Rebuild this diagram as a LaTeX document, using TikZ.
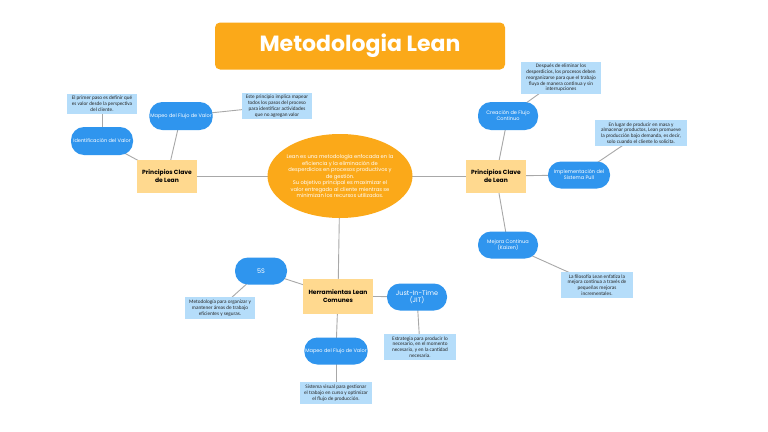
\documentclass[tikz,border=0pt]{standalone}
\usepackage{fontspec}
\setmainfont{Poppins}
\newfontfamily\notefont{Carlito}
\usetikzlibrary{shapes.geometric,backgrounds}
\definecolor{og}{HTML}{FBA919}
\definecolor{yl}{HTML}{FFD98F}
\definecolor{bl}{HTML}{2F95EE}
\definecolor{lb}{HTML}{B5DDFA}
\definecolor{ln}{HTML}{A8A8A8}
\tikzset{
 pill/.style={fill=bl,rounded corners=13pt,minimum width=#1,minimum height=28pt,text=white,align=center,font=\fontsize{5}{6}\selectfont,inner sep=1pt},
 note/.style={fill=lb,minimum width=#1,align=center,font=\notefont\fontsize{5.2}{5.8}\selectfont,inner sep=2.5pt,text=black!85},
 ybox/.style={fill=yl,minimum width=#1,minimum height=33pt,align=center,font=\bfseries\fontsize{6}{7.5}\selectfont},
 con/.style={draw=ln,line width=0.9pt}
}
\begin{document}
\begin{tikzpicture}[x=1pt,y=-1pt]
\useasboundingbox (0,0) rectangle (768,431);
\node[ybox=60] (L) at (167,176) {Principios Clave\\de Lean};
\node[ybox=60] (R) at (496,176) {Principios Clave\\de Lean};
\node[ybox=70,minimum height=35pt] (B) at (338,296) {Herramientas Lean\\Comunes};
\node[pill=62pt] (p1) at (102,141) {Identificación del Valor};
\node[pill=60pt] (p2) at (181,116) {Mapeo del Flujo de Valor};
\node[pill=60pt] (p3) at (508,116) {Creación de Flujo\\Continuo};
\node[pill=62pt,minimum height=27pt] (p4) at (579,175) {Implementación del\\Sistema Pull};
\node[pill=60pt,minimum height=27pt] (p5) at (508,245) {Mejora Continua\\(Kaizen)};
\node[pill=52pt,minimum height=27pt,font=\fontsize{6.5}{7.5}\selectfont] (p6) at (261,271) {5S};
\node[pill=60pt,minimum height=27pt,font=\fontsize{6.5}{7.5}\selectfont] (p7) at (417,297) {Just-In-Time\\(JIT)};
\node[pill=60pt,minimum height=27pt] (p8) at (336,351) {Mapeo del Flujo de Valor};
\node[note=70pt] (n1) at (102,104) {El primer paso es definir qué\\es valor desde la perspectiva\\del cliente.};
\node[note=70pt] (n2) at (277,106) {Este principio implica mapear\\todos los pasos del proceso\\para identificar actividades\\que no agregan valor};
\node[note=80pt] (n3) at (561,78) {Después de eliminar los\\desperdicios, los procesos deben\\reorganizarse para que el trabajo\\fluya de manera continua y sin\\interrupciones};
\node[note=92pt] (n4) at (641,133) {En lugar de producir en masa y\\almacenar productos, Lean promueve\\la producción bajo demanda, es decir,\\solo cuando el cliente lo solicita.};
\node[note=72pt] (n5) at (597,285) {La filosofía Lean enfatiza la\\mejora continua a través de\\pequeñas mejoras\\incrementales.};
\node[note=70pt] (n6) at (220,308) {Metodología para organizar y\\mantener áreas de trabajo\\eficientes y seguras.};
\node[note=72pt] (n7) at (420,347) {Estrategia para producir lo\\necesario, en el momento\\necesario, y en la cantidad\\necesaria.};
\node[note=72pt] (n8) at (336,393) {Sistema visual para gestionar\\el trabajo en curso y optimizar\\el flujo de producción.};
\node[ellipse,fill=og,minimum width=145pt,minimum height=84pt,inner sep=0pt] (E) at (340,176) {};
\node[text=white,align=center,font=\fontsize{5.2}{6.5}\selectfont] (Et) at (340,176) {Lean es una metodología enfocada en la\\eficiencia y la eliminación de\\desperdicios en procesos productivos y\\de gestión.\\Su objetivo principal es maximizar el\\valor entregado al cliente mientras se\\minimizan los recursos utilizados.};
\node[fill=og,rounded corners=5pt,minimum width=290pt,minimum height=47pt,text=white,font=\bfseries\fontsize{22}{26}\selectfont] (T) at (360,46) {Metodologia Lean};
\begin{scope}[on background layer]
\fill[white] (0,0) rectangle (768,431);
\draw[con] (E.center) -- (L.center);
\draw[con] (E.center) -- (R.center);
\draw[con] (E.center) -- (B.center);
\draw[con] (L.center) -- (p1.center);
\draw[con] (L.center) -- (p2.center);
\draw[con] (p1.center) -- (n1.center);
\draw[con] (p2.center) -- (n2.center);
\draw[con] (R.center) -- (p3.center);
\draw[con] (R.center) -- (p4.center);
\draw[con] (R.center) -- (p5.center);
\draw[con] (p3.center) -- (n3.center);
\draw[con] (p4.center) -- (n4.center);
\draw[con] (p5.center) -- (n5.center);
\draw[con] (B.center) -- (p6.center);
\draw[con] (B.center) -- (p7.center);
\draw[con] (B.center) -- (p8.center);
\draw[con] (p6.center) -- (n6.center);
\draw[con] (p7.center) -- (n7.center);
\draw[con] (p8.center) -- (n8.center);
\end{scope}
\end{tikzpicture}
\end{document}
